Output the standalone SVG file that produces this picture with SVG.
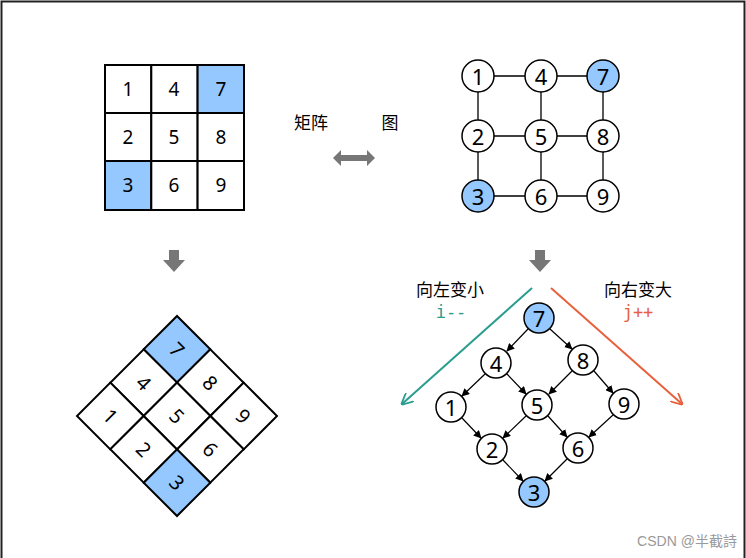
<svg xmlns="http://www.w3.org/2000/svg" width="746" height="558" viewBox="0 0 746 558">
<style>
text{font-family:"Noto Sans","Noto Sans CJK SC",sans-serif;fill:#000;text-anchor:middle;dominant-baseline:central}
.c{fill:#fff;stroke:#000;stroke-width:1.5}
.cell{fill:#fff;stroke:#000;stroke-width:2}
.b{fill:#94c8ff}
.n{font-size:22px}
.e{stroke:#000;stroke-width:1.3;fill:none}
.a{stroke:#000;stroke-width:1.2;marker-end:url(#ah)}
.g{fill:#777}
</style>
<defs>
<marker id="ah" viewBox="0 0 10 10" refX="9" refY="5" markerWidth="8" markerHeight="8" orient="auto" markerUnits="userSpaceOnUse"><path d="M0,0L10,5L0,10z" fill="#000"/></marker>
<marker id="ot" viewBox="0 0 10 10" refX="9" refY="5" markerWidth="12" markerHeight="12" orient="auto" markerUnits="userSpaceOnUse"><path d="M0,0L10,5L0,10" fill="none" stroke="#2a9d8f" stroke-width="1.5"/></marker>
<marker id="oo" viewBox="0 0 10 10" refX="9" refY="5" markerWidth="12" markerHeight="12" orient="auto" markerUnits="userSpaceOnUse"><path d="M0,0L10,5L0,10" fill="none" stroke="#e8603c" stroke-width="1.5"/></marker>
</defs>
<rect width="746" height="558" fill="#fff"/>
<path d="M1.5,558V1.5H744.5V558" fill="none" stroke="#222" stroke-width="2"/>

<g id="matrix">
<rect class="cell" x="105" y="65" width="46.3" height="48"/><rect class="cell" x="151.3" y="65" width="46.3" height="48"/><rect class="cell b" x="197.6" y="65" width="46.4" height="48"/>
<rect class="cell" x="105" y="113" width="46.3" height="48"/><rect class="cell" x="151.3" y="113" width="46.3" height="48"/><rect class="cell" x="197.6" y="113" width="46.4" height="48"/>
<rect class="cell b" x="105" y="161" width="46.3" height="49"/><rect class="cell" x="151.3" y="161" width="46.3" height="49"/><rect class="cell" x="197.6" y="161" width="46.4" height="49"/>
<g font-size="19"><text x="128" y="89">1</text><text x="174" y="89">4</text><text x="221" y="89">7</text>
<text x="128" y="137">2</text><text x="174" y="137">5</text><text x="221" y="137">8</text>
<text x="128" y="185">3</text><text x="174" y="185">6</text><text x="221" y="185">9</text></g>
</g>

<g id="labels" font-size="17"><text x="311" y="122">矩阵</text><text x="390" y="122">图</text></g>
<g id="dblarrow"><path class="g" d="M333,158l8,-8v5h26v-5l8,8l-8,8v-5h-26v5z"/></g>
<g id="down1"><path class="g" d="M169,250h10v10h6l-11,12l-11,-12h6z"/></g>
<g id="down2"><path class="g" d="M535,250h10v10h6l-11,12l-11,-12h6z"/></g>

<g id="grid-edges">
<path class="e" d="M478,76H603M478,136H603M478,196H603M478,76V196M541,76V196M603,76V196"/>
</g>
<g id="grid-nodes" class="n">
<circle class="c" cx="478" cy="76" r="16"/><text x="478" y="76">1</text>
<circle class="c" cx="541" cy="76" r="16"/><text x="541" y="76">4</text>
<circle class="c b" cx="603" cy="76" r="16"/><text x="603" y="76">7</text>
<circle class="c" cx="478" cy="136" r="16"/><text x="478" y="136">2</text>
<circle class="c" cx="541" cy="136" r="16"/><text x="541" y="136">5</text>
<circle class="c" cx="603" cy="136" r="16"/><text x="603" y="136">8</text>
<circle class="c b" cx="478" cy="196" r="16"/><text x="478" y="196">3</text>
<circle class="c" cx="541" cy="196" r="16"/><text x="541" y="196">6</text>
<circle class="c" cx="603" cy="196" r="16"/><text x="603" y="196">9</text>
</g>

<g id="diamond" transform="translate(177,416) rotate(45)">
<rect class="cell b" x="-70.7" y="-70.7" width="47.1" height="47.1"/><rect class="cell" x="-23.6" y="-70.7" width="47.2" height="47.1"/><rect class="cell" x="23.6" y="-70.7" width="47.1" height="47.1"/>
<rect class="cell" x="-70.7" y="-23.6" width="47.1" height="47.2"/><rect class="cell" x="-23.6" y="-23.6" width="47.2" height="47.2"/><rect class="cell" x="23.6" y="-23.6" width="47.1" height="47.2"/>
<rect class="cell" x="-70.7" y="23.6" width="47.1" height="47.1"/><rect class="cell" x="-23.6" y="23.6" width="47.2" height="47.1"/><rect class="cell b" x="23.6" y="23.6" width="47.1" height="47.1"/>
<g font-size="20"><text x="-47" y="-47">7</text><text x="0" y="-47">8</text><text x="47" y="-47">9</text>
<text x="-47" y="0">4</text><text x="0" y="0">5</text><text x="47" y="0">6</text>
<text x="-47" y="47">1</text><text x="0" y="47">2</text><text x="47" y="47">3</text></g>
</g>

<g id="connectors">
<line x1="532" y1="288" x2="402" y2="404" stroke="#2a9d8f" stroke-width="2" marker-end="url(#ot)"/>
<line x1="551" y1="288" x2="682" y2="404" stroke="#e8603c" stroke-width="2" marker-end="url(#oo)"/>
<line class="a" x1="528" y1="329" x2="507" y2="351"/>
<line class="a" x1="550" y1="329" x2="572" y2="349"/>
<line class="a" x1="485" y1="374" x2="462" y2="396"/>
<line class="a" x1="507" y1="374" x2="526" y2="394"/>
<line class="a" x1="572" y1="371" x2="549" y2="394"/>
<line class="a" x1="594" y1="371" x2="613" y2="393"/>
<line class="a" x1="462" y1="418" x2="481" y2="438"/>
<line class="a" x1="526" y1="416" x2="503" y2="438"/>
<line class="a" x1="548" y1="416" x2="567" y2="437"/>
<line class="a" x1="613" y1="415" x2="589" y2="437"/>
<line class="a" x1="503" y1="460" x2="523" y2="481"/>
<line class="a" x1="567" y1="459" x2="545" y2="481"/>
</g>
<g id="tree-nodes" class="n">
<circle class="c b" cx="539" cy="318" r="15"/><text x="539" y="318">7</text>
<circle class="c" cx="496" cy="363" r="15"/><text x="496" y="363">4</text>
<circle class="c" cx="583" cy="360" r="15"/><text x="583" y="360">8</text>
<circle class="c" cx="451" cy="407" r="15"/><text x="451" y="407">1</text>
<circle class="c" cx="537" cy="405" r="15"/><text x="537" y="405">5</text>
<circle class="c" cx="624" cy="404" r="15"/><text x="624" y="404">9</text>
<circle class="c" cx="492" cy="449" r="15"/><text x="492" y="449">2</text>
<circle class="c" cx="578" cy="448" r="15"/><text x="578" y="448">6</text>
<circle class="c b" cx="534" cy="492" r="15"/><text x="534" y="492">3</text>
</g>
<g id="dir-labels" font-size="17">
<text x="450" y="289">向左变小</text>
<text x="638" y="289">向右变大</text>
<text x="451" y="312" style="font-family:'DejaVu Sans Mono',monospace;fill:#2a9d8f">i--</text>
<text x="638" y="312" style="font-family:'DejaVu Sans Mono',monospace;fill:#e8603c">j++</text>
</g>
<text x="687" y="541" font-size="14" style="fill:#999;font-family:'Liberation Sans','Noto Sans CJK SC',sans-serif">CSDN @半截詩</text>
</svg>
